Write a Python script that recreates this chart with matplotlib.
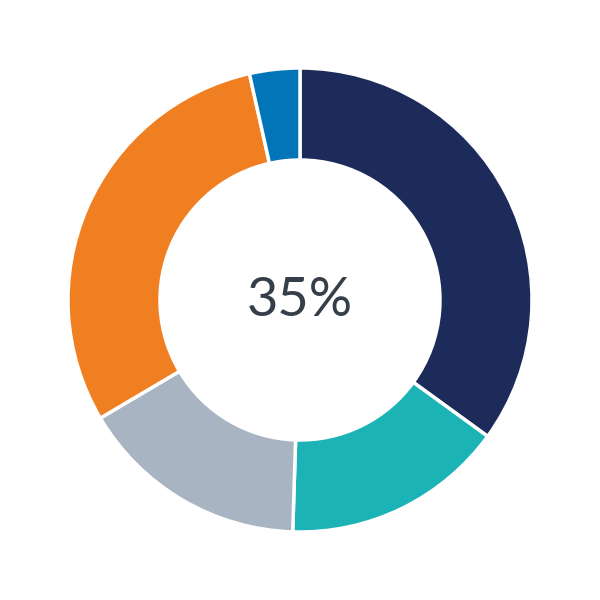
import matplotlib.pyplot as plt

# segment shares, clockwise from 12 o'clock
labels = ["Navy", "Teal", "Gray", "Orange", "Blue"]
values = [35, 15.5, 16, 30, 3.5]
colors = ["#1c2b5a", "#1bb3b5", "#a9b4c2", "#f07f21", "#0175b8"]
center_text = "35%"

fig = plt.figure(figsize=(6, 6), dpi=100)
ax = fig.add_axes([0, 0, 1, 1])

ax.pie(values, colors=colors, startangle=90, counterclock=False,
       radius=232,
       wedgeprops=dict(width=92, edgecolor="white", linewidth=2.5))

ax.text(0, 0, center_text, ha="center", va="center",
        fontsize=39, color="#353f49", family="Lato")

ax.set_xlim(-300, 300)
ax.set_ylim(-300, 300)
ax.set_aspect("equal")
ax.axis("off")

plt.savefig("out.png", dpi=100, facecolor="white")
